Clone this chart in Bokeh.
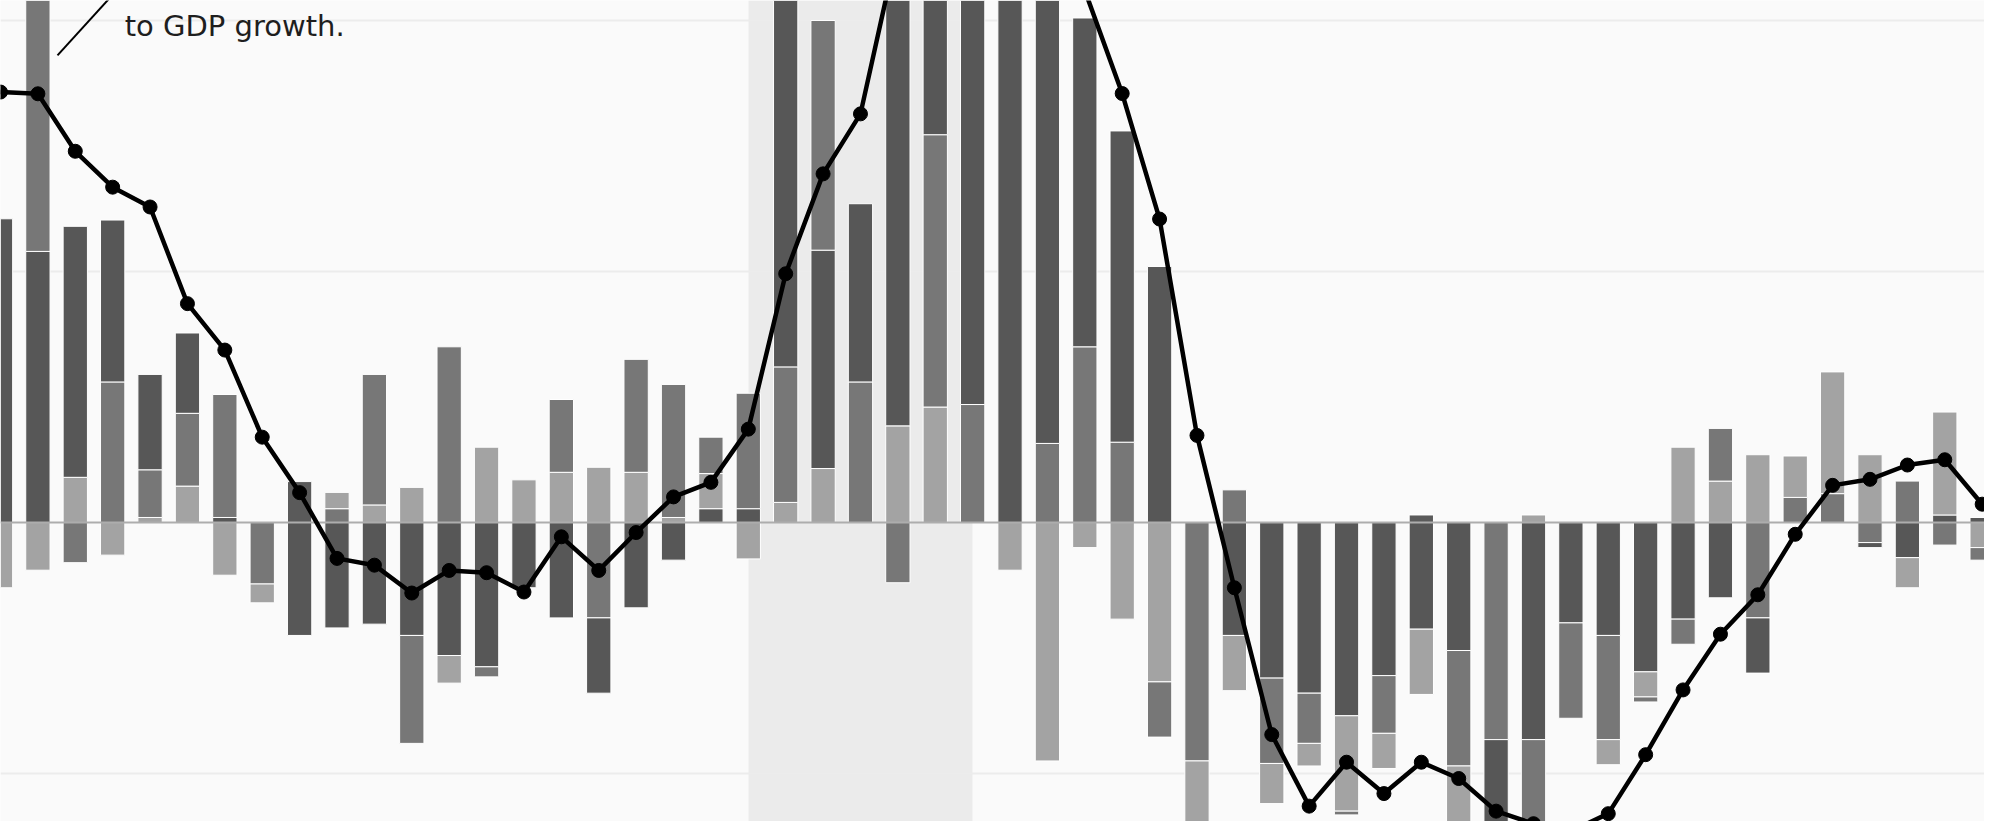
from bokeh.plotting import figure
from bokeh.models import ColumnDataSource, Range1d
from bokeh.embed import file_html
from bokeh.resources import INLINE
from bokeh.core.properties import value

# ---------------- data (quarter index, values in grid units) ----------------
quarters = list(range(55))

dark_series = [1.21, 1.08, 1.0, 0.645, 0.38, 0.32, 0.02, 0, -0.45, -0.42,
               -0.405, -0.45, -0.53, -0.575, -0.26, -0.38, -0.30, -0.34, -0.15, 0.055,
               0.055, 1.6, 0.87, 0.71, 2.0, 1.3, 1.8, 2.3, 2.1, 1.31,
               1.24, 1.02, 0, -0.45, -0.62, -0.68, -0.77, -0.61, -0.425, -0.51,
               -0.45, -0.865, -0.40, -0.45, -0.595, -0.385, -0.30, -0.22, 0, 0,
               -0.02, -0.14, 0.03, 0.02, 0]

dark2_series = [0, 0, 0, 0, 0, 0, 0, 0, 0.163, 0,
                0, 0, 0, 0, 0, 0, 0, 0, 0, 0,
                0, 0, 0, 0, 0, 0, 0, 0, 0, 0,
                0, 0, 0, 0, 0, 0, 0, 0, 0.03, 0,
                0, 0, 0, 0, 0, 0, 0, 0, 0, 0,
                0, 0, 0, 0, 0]

medium_series = [0, 1.25, -0.16, 0.56, 0.19, 0.29, 0.49, -0.245, 0, 0.055,
                 0.52, -0.43, 0.70, -0.04, 0, 0.29, -0.38, 0.45, 0.53, 0.145,
                 0.46, 0.54, 0.915, 0.56, -0.24, 1.085, 0.47, 0, 0.315, 0.70,
                 0.32, -0.22, -0.95, 0.13, -0.34, -0.2, -0.015, -0.23, 0, -0.46,
                 -0.865, -0.45, -0.38, -0.415, -0.02, -0.1, 0.21, -0.38, 0.1, 0.115,
                 -0.08, 0.165, -0.09, -0.05, 0]

light_series = [-0.26, -0.19, 0.18, -0.13, 0.02, 0.145, -0.21, -0.075, 0, 0.065,
                0.07, 0.14, -0.11, 0.30, 0.17, 0.2, 0.22, 0.2, 0.02, 0.14,
                -0.145, 0.08, 0.215, 0, 0.385, 0.46, 0, -0.19, -0.95, -0.1,
                -0.385, -0.635, -0.4, -0.22, -0.16, -0.09, -0.38, -0.14, -0.26, -0.35,
                0, 0.03, 0, -0.1, -0.1, 0.30, 0.165, 0.27, 0.165, 0.485,
                0.27, -0.12, 0.41, -0.1, 0]

gdp_growth = [1.715, 1.708, 1.479, 1.336, 1.257, 0.872, 0.687, 0.340, 0.119, -0.143,
              -0.170, -0.281, -0.191, -0.200, -0.277, -0.057, -0.191, -0.040, 0.102, 0.16,
              0.372, 0.991, 1.389, 1.628, 2.3, 2.7, 2.95, 2.85, 2.5, 2.12,
              1.709, 1.209, 0.347, -0.26, -0.845, -1.13, -0.955, -1.08, -0.955, -1.02,
              -1.15, -1.20, -1.23, -1.16, -0.925, -0.667, -0.445, -0.288, -0.047, 0.148,
              0.172, 0.229, 0.25, 0.073, 0.0]

recession_start = [20]
recession_end = [26]
gridlines = [-1, 1, 2]
annotation_text = ["to GDP growth."]

# ---------------- styling ----------------
BG = "#fafafa"
SERIES = [
    (dark_series, "#575757"),
    (dark2_series, "#5a5a5a"),
    (medium_series, "#777777"),
    (light_series, "#a3a3a3"),
]

# stack: segments sorted by signed value, positives upward, negatives downward
xs, tops, bottoms, colors = [], [], [], []
for i, q in enumerate(quarters):
    vals = sorted(((s[i], c) for s, c in SERIES), key=lambda t: t[0])
    pos = 0.0
    neg = 0.0
    for v, c in vals:
        if v > 0:
            xs.append(q); bottoms.append(pos); tops.append(pos + v); colors.append(c)
            pos += v
        elif v < 0:
            xs.append(q); tops.append(neg); bottoms.append(neg + v); colors.append(c)
            neg += v

bars = ColumnDataSource(dict(x=xs, top=tops, bottom=bottoms, color=colors))

W, H = 1984, 821
SPACING = 37.39      # px per quarter
ZERO_PX = 522        # y of zero line from top
UNIT_PX = 251        # px per grid unit
x_range = Range1d(0, W / SPACING)
y_range = Range1d((ZERO_PX - H) / UNIT_PX, ZERO_PX / UNIT_PX)

p = figure(width=W, height=H, x_range=x_range, y_range=y_range,
           output_backend="svg", toolbar_location=None,
           x_axis_location=None, y_axis_location=None, min_border=0)
p.background_fill_color = BG
p.border_fill_color = BG
p.outline_line_color = None
p.grid.visible = False

# recession shading
p.vstrip(x0=recession_start, x1=recession_end, fill_color="#ebebeb", line_color=None)

# gridlines
p.hspan(y=gridlines, line_color="#ececec", line_width=2)

# bars
p.vbar(x="x", top="top", bottom="bottom", width=0.65, fill_color="color",
       line_color="white", line_width=1, source=bars)

# zero line
p.hspan(y=[0], line_color="#adadad", line_width=2)

# GDP growth line
p.line(quarters, gdp_growth, line_color="black", line_width=4.5, line_join="round")
p.scatter(quarters, gdp_growth, size=14, fill_color="black", line_color="black")

# annotation
p.segment(x0=[1.524], y0=[1.861], x1=[3.107], y1=[2.12], line_color="black", line_width=2)
p.text(x=[3.32], y=[1.98], text=annotation_text, text_font=value("DejaVu Sans"),
       text_font_size="29px", text_color="#1e1e1e", text_baseline="alphabetic")

open("out.html", "w").write(file_html(p, INLINE))
